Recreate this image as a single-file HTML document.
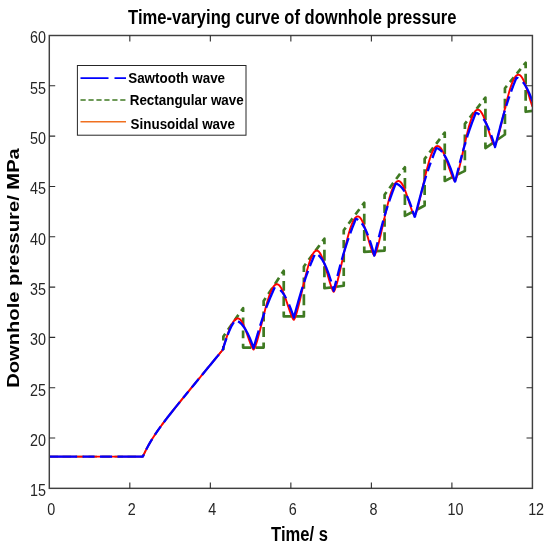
<!DOCTYPE html>
<html><head><meta charset="utf-8"><title>Time-varying curve of downhole pressure</title>
<style>html,body{margin:0;padding:0;background:#fff}svg{display:block}text{font-family:"Liberation Sans",sans-serif}</style></head><body>
<svg width="550" height="551" viewBox="0 0 550 551">
<rect width="550" height="551" fill="#fff"/>
<defs><clipPath id="c"><rect x="49.3" y="35.5" width="483.11999999999995" height="452.83500000000004"/></clipPath></defs>
<g clip-path="url(#c)" fill="none" stroke-linejoin="round">
<path d="M49.5,456.6 L51.51,456.6 L53.52,456.6 L55.54,456.6 L57.55,456.6 L59.56,456.6 L61.58,456.6 L63.59,456.6 L65.6,456.6 L67.61,456.6 L69.62,456.6 L71.64,456.6 L73.65,456.6 L75.66,456.6 L77.68,456.6 L79.69,456.6 L81.7,456.6 L83.71,456.6 L85.72,456.6 L87.74,456.6 L89.75,456.6 L91.76,456.6 L93.78,456.6 L95.79,456.6 L97.8,456.6 L99.81,456.6 L101.83,456.6 L103.84,456.6 L105.85,456.6 L107.86,456.6 L109.88,456.6 L111.89,456.6 L113.9,456.6 L115.91,456.6 L117.93,456.6 L119.94,456.6 L121.95,456.6 L123.96,456.6 L125.98,456.6 L127.99,456.6 L130,456.6 L132.01,456.6 L134.03,456.6 L136.04,456.6 L138.05,456.6 L140.06,456.6 L142.08,456.6 L144.09,453.92 L146.1,449.79 L148.11,445.97 L150.12,442.43 L152.14,439.1 L154.15,435.93 L156.16,432.91 L158.18,430 L160.19,427.19 L162.2,424.44 L164.21,421.76 L166.23,419.12 L168.24,416.52 L170.25,413.95 L172.26,411.41 L174.28,408.88 L176.29,406.38 L178.3,403.89 L180.31,401.4 L182.33,398.93 L184.34,396.46 L186.35,394 L188.36,391.55 L190.38,389.09 L192.39,386.64 L194.4,384.2 L196.41,381.75 L198.43,379.31 L200.44,376.87 L202.45,374.42 L204.46,371.98 L206.48,369.54 L208.49,367.1 L210.5,364.67 L212.51,362.23 L214.53,359.79 L216.54,357.35 L218.55,354.91 L220.56,352.47 L222.57,350.04" stroke="#3f7a22" stroke-width="1.6" stroke-dasharray="8.5 4.5"/>
<path d="M223.38,350.04 L223.38,336.5 L243.1,308.16 L243.1,347.55 L263.63,347.55 L263.63,301.02 L283.75,270.77 L283.75,316.4 L303.88,316.4 L303.88,266.45 L324.41,238.71 L324.41,288.26 L343.73,285.75 L343.73,230.27 L364.25,202.73 L364.25,251.88 L384.58,250.57 L384.58,194.69 L404.91,167.26 L404.91,215.9 L424.63,205.55 L424.63,158.81 L444.75,132.68 L444.75,180.92 L464.88,170.87 L464.88,123.94 L485.41,97.61 L485.41,148.06 L504.93,134.49 L504.93,88.26 L525.66,62.74 L525.66,111.78 L532.5,110.88" stroke="#3f7a22" stroke-width="2.7" stroke-dasharray="4.02 5.5 7.37 4.8 6.71 4.8 6.71 4.8 7.17 5.5 7.63 5.5 7.63 5.5 11.83 4.5 13.02 5.5 10.01 5.5 10.01 5.5 8.66 4.8 7.31 4.8 7.31 4.8 8.51 5.5 9.71 5.5 9.71 5.5 12.67 4.5 13.39 5.5 11.15 5.5 11.15 5.5 8.93 4.8 6.7 4.8 6.7 4.8 8.86 5.5 11.02 5.5 11.02 5.5 13 4.5 11.68 5.5 8.37 5.5 8.37 5.5 8.37 5.5 7.51 4.8 6.65 4.8 6.65 4.8 8.77 5.5 10.88 5.5 10.88 5.5 13.37 4.5 12.17 5.5 8.47 5.5 8.47 5.5 8.47 5.5 7.53 4.8 6.58 4.8 6.58 4.8 8.65 5.5 10.71 5.5 10.71 5.5 14.24 4.5 13.93 5.5 10.08 5.5 10.08 5.5 8.14 4.8 6.19 4.8 6.19 4.8 8.39 5.5 10.58 5.5 10.58 5.5 14.29 4.5 14.07 5.5 10.14 5.5 10.14 5.5 8.24 4.8 6.33 4.8 6.33 4.8 8.82 5.5 11.32 5.5 11.32 5.5 15.3 4.5 14.59 5.5 9.91 5.5 9.91 5.5 8.04 4.8 6.16 4.8 6.16 4.8 8.5 5.5 10.85 5.5 10.85 5.5 17.33 0" stroke-linejoin="round"/>
<path d="M49.5,456.6 L49.9,456.6 L50.3,456.6 L50.71,456.6 L51.11,456.6 L51.51,456.6 L51.91,456.6 L52.32,456.6 L52.72,456.6 L53.12,456.6 L53.52,456.6 L53.93,456.6 L54.33,456.6 L54.73,456.6 L55.13,456.6 L55.54,456.6 L55.94,456.6 L56.34,456.6 L56.74,456.6 L57.15,456.6 L57.55,456.6 L57.95,456.6 L58.36,456.6 L58.76,456.6 L59.16,456.6 L59.56,456.6 L59.97,456.6 L60.37,456.6 L60.77,456.6 L61.17,456.6 L61.58,456.6 L61.98,456.6 L62.38,456.6 L62.78,456.6 L63.19,456.6 L63.59,456.6 L63.99,456.6 L64.39,456.6 L64.8,456.6 L65.2,456.6 L65.6,456.6 L66,456.6 L66.41,456.6 L66.81,456.6 L67.21,456.6 L67.61,456.6 L68.02,456.6 L68.42,456.6 L68.82,456.6 L69.22,456.6 L69.62,456.6 L70.03,456.6 L70.43,456.6 L70.83,456.6 L71.23,456.6 L71.64,456.6 L72.04,456.6 L72.44,456.6 L72.84,456.6 L73.25,456.6 L73.65,456.6 L74.05,456.6 L74.45,456.6 L74.86,456.6 L75.26,456.6 L75.66,456.6 L76.06,456.6 L76.47,456.6 L76.87,456.6 L77.27,456.6 L77.68,456.6 L78.08,456.6 L78.48,456.6 L78.88,456.6 L79.28,456.6 L79.69,456.6 L80.09,456.6 L80.49,456.6 L80.89,456.6 L81.3,456.6 L81.7,456.6 L82.1,456.6 L82.5,456.6 L82.91,456.6 L83.31,456.6 L83.71,456.6 L84.12,456.6 L84.52,456.6 L84.92,456.6 L85.32,456.6 L85.72,456.6 L86.13,456.6 L86.53,456.6 L86.93,456.6 L87.34,456.6 L87.74,456.6 L88.14,456.6 L88.54,456.6 L88.94,456.6 L89.35,456.6 L89.75,456.6 L90.15,456.6 L90.56,456.6 L90.96,456.6 L91.36,456.6 L91.76,456.6 L92.16,456.6 L92.57,456.6 L92.97,456.6 L93.37,456.6 L93.78,456.6 L94.18,456.6 L94.58,456.6 L94.98,456.6 L95.39,456.6 L95.79,456.6 L96.19,456.6 L96.59,456.6 L97,456.6 L97.4,456.6 L97.8,456.6 L98.2,456.6 L98.6,456.6 L99.01,456.6 L99.41,456.6 L99.81,456.6 L100.22,456.6 L100.62,456.6 L101.02,456.6 L101.42,456.6 L101.83,456.6 L102.23,456.6 L102.63,456.6 L103.03,456.6 L103.44,456.6 L103.84,456.6 L104.24,456.6 L104.64,456.6 L105.05,456.6 L105.45,456.6 L105.85,456.6 L106.25,456.6 L106.66,456.6 L107.06,456.6 L107.46,456.6 L107.86,456.6 L108.27,456.6 L108.67,456.6 L109.07,456.6 L109.47,456.6 L109.88,456.6 L110.28,456.6 L110.68,456.6 L111.08,456.6 L111.48,456.6 L111.89,456.6 L112.29,456.6 L112.69,456.6 L113.09,456.6 L113.5,456.6 L113.9,456.6 L114.3,456.6 L114.7,456.6 L115.11,456.6 L115.51,456.6 L115.91,456.6 L116.32,456.6 L116.72,456.6 L117.12,456.6 L117.52,456.6 L117.92,456.6 L118.33,456.6 L118.73,456.6 L119.13,456.6 L119.53,456.6 L119.94,456.6 L120.34,456.6 L120.74,456.6 L121.14,456.6 L121.55,456.6 L121.95,456.6 L122.35,456.6 L122.75,456.6 L123.16,456.6 L123.56,456.6 L123.96,456.6 L124.37,456.6 L124.77,456.6 L125.17,456.6 L125.57,456.6 L125.98,456.6 L126.38,456.6 L126.78,456.6 L127.18,456.6 L127.58,456.6 L127.99,456.6 L128.39,456.6 L128.79,456.6 L129.19,456.6 L129.6,456.6 L130,456.6 L130.4,456.6 L130.81,456.6 L131.21,456.6 L131.61,456.6 L132.01,456.6 L132.42,456.6 L132.82,456.6 L133.22,456.6 L133.62,456.6 L134.03,456.6 L134.43,456.6 L134.83,456.6 L135.23,456.6 L135.63,456.6 L136.04,456.6 L136.44,456.6 L136.84,456.6 L137.25,456.6 L137.65,456.6 L138.05,456.6 L138.45,456.6 L138.86,456.6 L139.26,456.6 L139.66,456.6 L140.06,456.6 L140.47,456.6 L140.87,456.6 L141.27,456.6 L141.67,456.6 L142.08,456.6 L142.48,456.6 L142.88,456.6 L143.28,455.69 L143.69,454.8 L144.09,453.92 L144.49,453.07 L144.89,452.22 L145.3,451.4 L145.7,450.58 L146.1,449.79 L146.5,449 L146.91,448.23 L147.31,447.46 L147.71,446.71 L148.11,445.97 L148.51,445.25 L148.92,444.53 L149.32,443.82 L149.72,443.12 L150.12,442.43 L150.53,441.75 L150.93,441.07 L151.33,440.41 L151.74,439.75 L152.14,439.1 L152.54,438.45 L152.94,437.81 L153.34,437.18 L153.75,436.55 L154.15,435.93 L154.55,435.32 L154.95,434.71 L155.36,434.11 L155.76,433.51 L156.16,432.91 L156.56,432.32 L156.97,431.74 L157.37,431.16 L157.77,430.58 L158.18,430 L158.58,429.43 L158.98,428.87 L159.38,428.3 L159.79,427.74 L160.19,427.19 L160.59,426.63 L160.99,426.08 L161.4,425.53 L161.8,424.98 L162.2,424.44 L162.6,423.9 L163,423.36 L163.41,422.82 L163.81,422.29 L164.21,421.76 L164.62,421.22 L165.02,420.69 L165.42,420.17 L165.82,419.64 L166.22,419.12 L166.63,418.59 L167.03,418.07 L167.43,417.55 L167.83,417.03 L168.24,416.52 L168.64,416 L169.04,415.49 L169.44,414.97 L169.85,414.46 L170.25,413.95 L170.65,413.44 L171.06,412.93 L171.46,412.42 L171.86,411.91 L172.26,411.41 L172.67,410.9 L173.07,410.4 L173.47,409.89 L173.87,409.39 L174.28,408.88 L174.68,408.38 L175.08,407.88 L175.48,407.38 L175.88,406.88 L176.29,406.38 L176.69,405.88 L177.09,405.38 L177.5,404.88 L177.9,404.38 L178.3,403.89 L178.7,403.39 L179.11,402.89 L179.51,402.4 L179.91,401.9 L180.31,401.4 L180.72,400.91 L181.12,400.41 L181.52,399.92 L181.92,399.42 L182.33,398.93 L182.73,398.44 L183.13,397.94 L183.53,397.45 L183.94,396.96 L184.34,396.46 L184.74,395.97 L185.14,395.48 L185.54,394.99 L185.95,394.49 L186.35,394 L186.75,393.51 L187.16,393.02 L187.56,392.53 L187.96,392.04 L188.36,391.55 L188.76,391.06 L189.17,390.56 L189.57,390.07 L189.97,389.58 L190.38,389.09 L190.78,388.6 L191.18,388.11 L191.58,387.62 L191.99,387.13 L192.39,386.64 L192.79,386.15 L193.19,385.66 L193.59,385.18 L194,384.69 L194.4,384.2 L194.8,383.71 L195.21,383.22 L195.61,382.73 L196.01,382.24 L196.41,381.75 L196.81,381.26 L197.22,380.77 L197.62,380.29 L198.02,379.8 L198.43,379.31 L198.83,378.82 L199.23,378.33 L199.63,377.84 L200.03,377.35 L200.44,376.87 L200.84,376.38 L201.24,375.89 L201.65,375.4 L202.05,374.91 L202.45,374.42 L202.85,373.94 L203.26,373.45 L203.66,372.96 L204.06,372.47 L204.46,371.98 L204.87,371.5 L205.27,371.01 L205.67,370.52 L206.07,370.03 L206.47,369.54 L206.88,369.06 L207.28,368.57 L207.68,368.08 L208.09,367.59 L208.49,367.1 L208.89,366.62 L209.29,366.13 L209.69,365.64 L210.1,365.15 L210.5,364.67 L210.9,364.18 L211.31,363.69 L211.71,363.2 L212.11,362.71 L212.51,362.23 L212.92,361.74 L213.32,361.25 L213.72,360.76 L214.12,360.28 L214.52,359.79 L214.93,359.3 L215.33,358.81 L215.73,358.33 L216.13,357.84 L216.54,357.35 L216.94,356.86 L217.34,356.38 L217.74,355.89 L218.15,355.4 L218.55,354.91 L218.95,354.42 L219.35,353.94 L219.76,353.45 L220.16,352.96 L220.56,352.47 L220.97,351.99 L221.37,351.5 L221.77,351.01 L222.17,350.52 L222.57,350.04 L222.98,348.73 L223.38,347.43 L223.78,346.12 L224.19,344.83 L224.59,343.55 L224.99,342.27 L225.39,341.01 L225.79,339.77 L226.2,338.54 L226.6,337.33 L227,336.15 L227.41,334.98 L227.81,333.85 L228.21,332.74 L228.61,331.66 L229.01,330.61 L229.42,329.59 L229.82,328.61 L230.22,327.67 L230.62,326.77 L231.03,325.9 L231.43,325.08 L231.83,324.3 L232.24,323.56 L232.64,322.87 L233.04,322.22 L233.44,321.62 L233.84,321.07 L234.25,320.57 L234.65,320.12 L235.05,319.72 L235.46,319.38 L235.86,319.08 L236.26,318.84 L236.66,318.65 L237.06,318.52 L237.47,318.43 L237.87,318.41 L238.27,318.44 L238.68,318.55 L239.08,318.73 L239.48,318.97 L239.88,319.29 L240.28,319.67 L240.69,320.12 L241.09,320.63 L241.49,321.2 L241.9,321.84 L242.3,322.54 L242.7,323.29 L243.1,324.09 L243.51,324.94 L243.91,325.84 L244.31,326.79 L244.71,327.77 L245.12,328.79 L245.52,329.85 L245.92,330.93 L246.32,332.03 L246.73,333.16 L247.13,334.3 L247.53,335.45 L247.93,336.6 L248.34,337.76 L248.74,338.91 L249.14,340.04 L249.54,341.17 L249.95,342.27 L250.35,343.33 L250.75,344.37 L251.15,345.35 L251.56,346.29 L251.96,347.16 L252.36,347.95 L252.76,348.65 L253.17,349.22 L253.57,349.56 L253.97,349.14 L254.37,348.46 L254.78,347.62 L255.18,346.66 L255.58,345.6 L255.98,344.46 L256.38,343.25 L256.79,341.97 L257.19,340.63 L257.59,339.25 L258,337.82 L258.4,336.35 L258.8,334.85 L259.2,333.31 L259.61,331.76 L260.01,330.18 L260.41,328.58 L260.81,326.97 L261.22,325.35 L261.62,323.72 L262.02,322.1 L262.42,320.47 L262.82,318.84 L263.23,317.22 L263.63,315.62 L264.03,314.02 L264.44,312.45 L264.84,310.89 L265.24,309.35 L265.64,307.84 L266.04,306.35 L266.45,304.9 L266.85,303.48 L267.25,302.09 L267.65,300.74 L268.06,299.43 L268.46,298.17 L268.86,296.94 L269.26,295.77 L269.67,294.64 L270.07,293.56 L270.47,292.53 L270.88,291.56 L271.28,290.64 L271.68,289.78 L272.08,288.97 L272.49,288.23 L272.89,287.55 L273.29,286.92 L273.69,286.37 L274.1,285.87 L274.5,285.44 L274.9,285.07 L275.3,284.77 L275.71,284.54 L276.11,284.37 L276.51,284.27 L276.91,284.24 L277.31,284.27 L277.72,284.38 L278.12,284.55 L278.52,284.79 L278.93,285.1 L279.33,285.48 L279.73,285.92 L280.13,286.43 L280.53,287 L280.94,287.63 L281.34,288.32 L281.74,289.07 L282.14,289.87 L282.55,290.73 L282.95,291.63 L283.35,292.58 L283.75,293.57 L284.16,294.61 L284.56,295.68 L284.96,296.78 L285.37,297.91 L285.77,299.07 L286.17,300.25 L286.57,301.45 L286.98,302.66 L287.38,303.88 L287.78,305.11 L288.18,306.33 L288.59,307.55 L288.99,308.76 L289.39,309.95 L289.79,311.13 L290.2,312.27 L290.6,313.38 L291,314.45 L291.4,315.47 L291.81,316.44 L292.21,317.34 L292.61,318.16 L293.01,318.87 L293.42,319.46 L293.82,319.81 L294.22,319.36 L294.62,318.62 L295.03,317.71 L295.43,316.66 L295.83,315.52 L296.23,314.28 L296.63,312.96 L297.04,311.57 L297.44,310.12 L297.84,308.62 L298.25,307.07 L298.65,305.48 L299.05,303.85 L299.45,302.19 L299.86,300.5 L300.26,298.79 L300.66,297.07 L301.06,295.33 L301.47,293.58 L301.87,291.82 L302.27,290.06 L302.67,288.31 L303.07,286.56 L303.48,284.82 L303.88,283.09 L304.28,281.38 L304.69,279.69 L305.09,278.02 L305.49,276.37 L305.89,274.76 L306.3,273.17 L306.7,271.62 L307.1,270.11 L307.5,268.64 L307.9,267.21 L308.31,265.82 L308.71,264.49 L309.11,263.2 L309.51,261.97 L309.92,260.78 L310.32,259.66 L310.72,258.6 L311.12,257.59 L311.53,256.65 L311.93,255.77 L312.33,254.95 L312.74,254.2 L313.14,253.52 L313.54,252.9 L313.94,252.36 L314.35,251.89 L314.75,251.49 L315.15,251.16 L315.55,250.9 L315.95,250.72 L316.36,250.61 L316.76,250.57 L317.16,250.61 L317.56,250.73 L317.97,250.93 L318.37,251.21 L318.77,251.57 L319.18,252.01 L319.58,252.52 L319.98,253.11 L320.38,253.77 L320.79,254.5 L321.19,255.3 L321.59,256.17 L321.99,257.1 L322.39,258.09 L322.8,259.13 L323.2,260.23 L323.6,261.38 L324,262.58 L324.41,263.82 L324.81,265.1 L325.21,266.41 L325.62,267.75 L326.02,269.12 L326.42,270.51 L326.82,271.91 L327.23,273.32 L327.63,274.74 L328.03,276.16 L328.43,277.57 L328.84,278.97 L329.24,280.35 L329.64,281.71 L330.04,283.04 L330.44,284.32 L330.85,285.56 L331.25,286.75 L331.65,287.87 L332.06,288.91 L332.46,289.85 L332.86,290.68 L333.26,291.36 L333.67,291.78 L334.07,291.32 L334.47,290.56 L334.87,289.64 L335.28,288.58 L335.68,287.42 L336.08,286.16 L336.48,284.82 L336.89,283.41 L337.29,281.94 L337.69,280.41 L338.09,278.84 L338.5,277.21 L338.9,275.55 L339.3,273.86 L339.7,272.13 L340.11,270.38 L340.51,268.61 L340.91,266.82 L341.31,265.02 L341.71,263.21 L342.12,261.4 L342.52,259.58 L342.92,257.77 L343.32,255.95 L343.73,254.15 L344.13,252.36 L344.53,250.59 L344.94,248.83 L345.34,247.09 L345.74,245.38 L346.14,243.69 L346.55,242.03 L346.95,240.41 L347.35,238.82 L347.75,237.26 L348.15,235.75 L348.56,234.28 L348.96,232.86 L349.36,231.48 L349.76,230.15 L350.17,228.87 L350.57,227.65 L350.97,226.48 L351.38,225.36 L351.78,224.31 L352.18,223.31 L352.58,222.38 L352.99,221.51 L353.39,220.71 L353.79,219.97 L354.19,219.3 L354.6,218.7 L355,218.16 L355.4,217.7 L355.8,217.3 L356.2,216.98 L356.61,216.73 L357.01,216.54 L357.41,216.44 L357.81,216.4 L358.22,216.44 L358.62,216.56 L359.02,216.76 L359.43,217.04 L359.83,217.4 L360.23,217.84 L360.63,218.35 L361.04,218.93 L361.44,219.59 L361.84,220.32 L362.24,221.12 L362.64,221.98 L363.05,222.9 L363.45,223.88 L363.85,224.92 L364.25,226.01 L364.66,227.15 L365.06,228.34 L365.46,229.56 L365.87,230.82 L366.27,232.12 L366.67,233.44 L367.07,234.78 L367.48,236.15 L367.88,237.52 L368.28,238.9 L368.68,240.28 L369.09,241.66 L369.49,243.03 L369.89,244.38 L370.29,245.71 L370.69,247.01 L371.1,248.27 L371.5,249.49 L371.9,250.65 L372.31,251.75 L372.71,252.77 L373.11,253.7 L373.51,254.52 L373.92,255.19 L374.32,255.59 L374.72,255.14 L375.12,254.4 L375.52,253.48 L375.93,252.44 L376.33,251.28 L376.73,250.04 L377.14,248.72 L377.54,247.32 L377.94,245.87 L378.34,244.36 L378.75,242.79 L379.15,241.19 L379.55,239.55 L379.95,237.87 L380.36,236.16 L380.76,234.43 L381.16,232.68 L381.56,230.91 L381.96,229.13 L382.37,227.34 L382.77,225.54 L383.17,223.74 L383.58,221.95 L383.98,220.16 L384.38,218.37 L384.78,216.6 L385.19,214.84 L385.59,213.11 L385.99,211.39 L386.39,209.69 L386.8,208.02 L387.2,206.38 L387.6,204.78 L388,203.2 L388.4,201.67 L388.81,200.17 L389.21,198.71 L389.61,197.3 L390.02,195.94 L390.42,194.63 L390.82,193.36 L391.22,192.15 L391.62,190.99 L392.03,189.89 L392.43,188.85 L392.83,187.86 L393.24,186.94 L393.64,186.08 L394.04,185.29 L394.44,184.56 L394.85,183.89 L395.25,183.3 L395.65,182.77 L396.05,182.31 L396.46,181.92 L396.86,181.6 L397.26,181.35 L397.66,181.17 L398.06,181.06 L398.47,181.02 L398.87,181.06 L399.27,181.17 L399.68,181.36 L400.08,181.62 L400.48,181.95 L400.88,182.35 L401.29,182.82 L401.69,183.36 L402.09,183.97 L402.49,184.64 L402.89,185.37 L403.3,186.17 L403.7,187.02 L404.1,187.92 L404.5,188.87 L404.91,189.87 L405.31,190.92 L405.71,192 L406.11,193.12 L406.52,194.28 L406.92,195.46 L407.32,196.66 L407.73,197.88 L408.13,199.11 L408.53,200.36 L408.93,201.6 L409.33,202.85 L409.74,204.08 L410.14,205.31 L410.54,206.51 L410.94,207.69 L411.35,208.84 L411.75,209.94 L412.15,211 L412.56,212 L412.96,212.93 L413.36,213.77 L413.76,214.52 L414.17,215.12 L414.57,215.5 L414.97,215.04 L415.37,214.3 L415.77,213.38 L416.18,212.34 L416.58,211.18 L416.98,209.94 L417.39,208.62 L417.79,207.23 L418.19,205.78 L418.59,204.27 L419,202.71 L419.4,201.12 L419.8,199.48 L420.2,197.82 L420.61,196.13 L421.01,194.41 L421.41,192.68 L421.81,190.94 L422.21,189.18 L422.62,187.42 L423.02,185.66 L423.42,183.9 L423.83,182.14 L424.23,180.4 L424.63,178.66 L425.03,176.95 L425.44,175.25 L425.84,173.57 L426.24,171.93 L426.64,170.31 L427.05,168.72 L427.45,167.16 L427.85,165.65 L428.25,164.17 L428.65,162.74 L429.06,161.35 L429.46,160.01 L429.86,158.72 L430.27,157.48 L430.67,156.29 L431.07,155.17 L431.47,154.1 L431.88,153.09 L432.28,152.14 L432.68,151.26 L433.08,150.44 L433.49,149.69 L433.89,149.01 L434.29,148.39 L434.69,147.85 L435.1,147.37 L435.5,146.97 L435.9,146.64 L436.3,146.38 L436.71,146.2 L437.11,146.09 L437.51,146.05 L437.91,146.08 L438.31,146.18 L438.72,146.34 L439.12,146.57 L439.52,146.86 L439.93,147.21 L440.33,147.63 L440.73,148.1 L441.13,148.64 L441.54,149.23 L441.94,149.88 L442.34,150.58 L442.74,151.33 L443.14,152.13 L443.55,152.98 L443.95,153.88 L444.35,154.81 L444.75,155.79 L445.16,156.8 L445.56,157.84 L445.96,158.91 L446.36,160.01 L446.77,161.13 L447.17,162.27 L447.57,163.42 L447.98,164.58 L448.38,165.75 L448.78,166.93 L449.18,168.1 L449.58,169.26 L449.99,170.42 L450.39,171.55 L450.79,172.67 L451.19,173.76 L451.6,174.82 L452,175.83 L452.4,176.8 L452.81,177.72 L453.21,178.57 L453.61,179.35 L454.01,180.03 L454.42,180.58 L454.82,180.92 L455.22,180.46 L455.62,179.69 L456.02,178.75 L456.43,177.68 L456.83,176.5 L457.23,175.22 L457.64,173.87 L458.04,172.44 L458.44,170.95 L458.84,169.4 L459.25,167.81 L459.65,166.17 L460.05,164.49 L460.45,162.79 L460.86,161.05 L461.26,159.29 L461.66,157.51 L462.06,155.72 L462.46,153.92 L462.87,152.12 L463.27,150.31 L463.67,148.5 L464.08,146.7 L464.48,144.91 L464.88,143.13 L465.28,141.37 L465.69,139.63 L466.09,137.91 L466.49,136.22 L466.89,134.56 L467.3,132.93 L467.7,131.33 L468.1,129.78 L468.5,128.26 L468.9,126.79 L469.31,125.37 L469.71,123.99 L470.11,122.67 L470.52,121.4 L470.92,120.18 L471.32,119.02 L471.72,117.93 L472.12,116.89 L472.53,115.92 L472.93,115.01 L473.33,114.18 L473.74,113.4 L474.14,112.7 L474.54,112.07 L474.94,111.51 L475.35,111.03 L475.75,110.61 L476.15,110.27 L476.55,110.01 L476.96,109.82 L477.36,109.71 L477.76,109.67 L478.16,109.7 L478.56,109.81 L478.97,109.98 L479.37,110.23 L479.77,110.54 L480.18,110.92 L480.58,111.36 L480.98,111.87 L481.38,112.45 L481.79,113.08 L482.19,113.78 L482.59,114.53 L482.99,115.34 L483.39,116.19 L483.8,117.1 L484.2,118.06 L484.6,119.06 L485,120.1 L485.41,121.17 L485.81,122.28 L486.21,123.42 L486.61,124.59 L487.02,125.78 L487.42,126.98 L487.82,128.2 L488.23,129.43 L488.63,130.66 L489.03,131.89 L489.43,133.12 L489.83,134.33 L490.24,135.53 L490.64,136.71 L491.04,137.86 L491.44,138.98 L491.85,140.05 L492.25,141.08 L492.65,142.05 L493.06,142.96 L493.46,143.78 L493.86,144.5 L494.26,145.09 L494.67,145.45 L495.07,145.01 L495.47,144.28 L495.87,143.39 L496.27,142.38 L496.68,141.26 L497.08,140.05 L497.48,138.77 L497.89,137.41 L498.29,136 L498.69,134.53 L499.09,133.02 L499.5,131.46 L499.9,129.87 L500.3,128.25 L500.7,126.59 L501.11,124.92 L501.51,123.22 L501.91,121.51 L502.31,119.79 L502.71,118.06 L503.12,116.33 L503.52,114.59 L503.92,112.86 L504.33,111.13 L504.73,109.42 L505.13,107.71 L505.53,106.03 L505.94,104.36 L506.34,102.71 L506.74,101.09 L507.14,99.49 L507.55,97.92 L507.95,96.39 L508.35,94.89 L508.75,93.43 L509.15,92.01 L509.56,90.64 L509.96,89.3 L510.36,88.02 L510.77,86.78 L511.17,85.6 L511.57,84.46 L511.97,83.39 L512.38,82.36 L512.78,81.4 L513.18,80.5 L513.58,79.66 L513.99,78.88 L514.39,78.16 L514.79,77.51 L515.19,76.92 L515.6,76.4 L516,75.95 L516.4,75.57 L516.8,75.26 L517.21,75.01 L517.61,74.84 L518.01,74.73 L518.41,74.69 L518.82,74.73 L519.22,74.84 L519.62,75.03 L520.02,75.28 L520.43,75.61 L520.83,76.01 L521.23,76.48 L521.63,77.02 L522.04,77.62 L522.44,78.29 L522.84,79.02 L523.24,79.81 L523.64,80.66 L524.05,81.57 L524.45,82.53 L524.85,83.53 L525.25,84.58 L525.66,85.68 L526.06,86.81 L526.46,87.98 L526.87,89.18 L527.27,90.41 L527.67,91.66 L528.07,92.93 L528.48,94.21 L528.88,95.51 L529.28,96.8 L529.68,98.1 L530.09,99.39 L530.49,100.67 L530.89,101.94 L531.29,103.18 L531.69,104.39 L532.1,105.57 L532.5,106.7" stroke="#ff0000" stroke-width="1.9"/>
<path d="M49.5,456.6 L49.9,456.6 L50.3,456.6 L50.71,456.6 L51.11,456.6 L51.51,456.6 L51.91,456.6 L52.32,456.6 L52.72,456.6 L53.12,456.6 L53.52,456.6 L53.93,456.6 L54.33,456.6 L54.73,456.6 L55.13,456.6 L55.54,456.6 L55.94,456.6 L56.34,456.6 L56.74,456.6 L57.15,456.6 L57.55,456.6 L57.95,456.6 L58.36,456.6 L58.76,456.6 L59.16,456.6 L59.56,456.6 L59.97,456.6 L60.37,456.6 L60.77,456.6 L61.17,456.6 L61.58,456.6 L61.98,456.6 L62.38,456.6 L62.78,456.6 L63.19,456.6 L63.59,456.6 L63.99,456.6 L64.39,456.6 L64.8,456.6 L65.2,456.6 L65.6,456.6 L66,456.6 L66.41,456.6 L66.81,456.6 L67.21,456.6 L67.61,456.6 L68.02,456.6 L68.42,456.6 L68.82,456.6 L69.22,456.6 L69.62,456.6 L70.03,456.6 L70.43,456.6 L70.83,456.6 L71.23,456.6 L71.64,456.6 L72.04,456.6 L72.44,456.6 L72.84,456.6 L73.25,456.6 L73.65,456.6 L74.05,456.6 L74.45,456.6 L74.86,456.6 L75.26,456.6 L75.66,456.6 L76.06,456.6 L76.47,456.6 L76.87,456.6 L77.27,456.6 L77.68,456.6 L78.08,456.6 L78.48,456.6 L78.88,456.6 L79.28,456.6 L79.69,456.6 L80.09,456.6 L80.49,456.6 L80.89,456.6 L81.3,456.6 L81.7,456.6 L82.1,456.6 L82.5,456.6 L82.91,456.6 L83.31,456.6 L83.71,456.6 L84.12,456.6 L84.52,456.6 L84.92,456.6 L85.32,456.6 L85.72,456.6 L86.13,456.6 L86.53,456.6 L86.93,456.6 L87.34,456.6 L87.74,456.6 L88.14,456.6 L88.54,456.6 L88.94,456.6 L89.35,456.6 L89.75,456.6 L90.15,456.6 L90.56,456.6 L90.96,456.6 L91.36,456.6 L91.76,456.6 L92.16,456.6 L92.57,456.6 L92.97,456.6 L93.37,456.6 L93.78,456.6 L94.18,456.6 L94.58,456.6 L94.98,456.6 L95.39,456.6 L95.79,456.6 L96.19,456.6 L96.59,456.6 L97,456.6 L97.4,456.6 L97.8,456.6 L98.2,456.6 L98.6,456.6 L99.01,456.6 L99.41,456.6 L99.81,456.6 L100.22,456.6 L100.62,456.6 L101.02,456.6 L101.42,456.6 L101.83,456.6 L102.23,456.6 L102.63,456.6 L103.03,456.6 L103.44,456.6 L103.84,456.6 L104.24,456.6 L104.64,456.6 L105.05,456.6 L105.45,456.6 L105.85,456.6 L106.25,456.6 L106.66,456.6 L107.06,456.6 L107.46,456.6 L107.86,456.6 L108.27,456.6 L108.67,456.6 L109.07,456.6 L109.47,456.6 L109.88,456.6 L110.28,456.6 L110.68,456.6 L111.08,456.6 L111.48,456.6 L111.89,456.6 L112.29,456.6 L112.69,456.6 L113.09,456.6 L113.5,456.6 L113.9,456.6 L114.3,456.6 L114.7,456.6 L115.11,456.6 L115.51,456.6 L115.91,456.6 L116.32,456.6 L116.72,456.6 L117.12,456.6 L117.52,456.6 L117.92,456.6 L118.33,456.6 L118.73,456.6 L119.13,456.6 L119.53,456.6 L119.94,456.6 L120.34,456.6 L120.74,456.6 L121.14,456.6 L121.55,456.6 L121.95,456.6 L122.35,456.6 L122.75,456.6 L123.16,456.6 L123.56,456.6 L123.96,456.6 L124.37,456.6 L124.77,456.6 L125.17,456.6 L125.57,456.6 L125.98,456.6 L126.38,456.6 L126.78,456.6 L127.18,456.6 L127.58,456.6 L127.99,456.6 L128.39,456.6 L128.79,456.6 L129.19,456.6 L129.6,456.6 L130,456.6 L130.4,456.6 L130.81,456.6 L131.21,456.6 L131.61,456.6 L132.01,456.6 L132.42,456.6 L132.82,456.6 L133.22,456.6 L133.62,456.6 L134.03,456.6 L134.43,456.6 L134.83,456.6 L135.23,456.6 L135.63,456.6 L136.04,456.6 L136.44,456.6 L136.84,456.6 L137.25,456.6 L137.65,456.6 L138.05,456.6 L138.45,456.6 L138.86,456.6 L139.26,456.6 L139.66,456.6 L140.06,456.6 L140.47,456.6 L140.87,456.6 L141.27,456.6 L141.67,456.6 L142.08,456.6 L142.48,456.6 L142.88,456.6 L143.28,455.69 L143.69,454.8 L144.09,453.92 L144.49,453.07 L144.89,452.22 L145.3,451.4 L145.7,450.58 L146.1,449.79 L146.5,449 L146.91,448.23 L147.31,447.46 L147.71,446.71 L148.11,445.97 L148.51,445.25 L148.92,444.53 L149.32,443.82 L149.72,443.12 L150.12,442.43 L150.53,441.75 L150.93,441.07 L151.33,440.41 L151.74,439.75 L152.14,439.1 L152.54,438.45 L152.94,437.81 L153.34,437.18 L153.75,436.55 L154.15,435.93 L154.55,435.32 L154.95,434.71 L155.36,434.11 L155.76,433.51 L156.16,432.91 L156.56,432.32 L156.97,431.74 L157.37,431.16 L157.77,430.58 L158.18,430 L158.58,429.43 L158.98,428.87 L159.38,428.3 L159.79,427.74 L160.19,427.19 L160.59,426.63 L160.99,426.08 L161.4,425.53 L161.8,424.98 L162.2,424.44 L162.6,423.9 L163,423.36 L163.41,422.82 L163.81,422.29 L164.21,421.76 L164.62,421.22 L165.02,420.69 L165.42,420.17 L165.82,419.64 L166.22,419.12 L166.63,418.59 L167.03,418.07 L167.43,417.55 L167.83,417.03 L168.24,416.52 L168.64,416 L169.04,415.49 L169.44,414.97 L169.85,414.46 L170.25,413.95 L170.65,413.44 L171.06,412.93 L171.46,412.42 L171.86,411.91 L172.26,411.41 L172.67,410.9 L173.07,410.4 L173.47,409.89 L173.87,409.39 L174.28,408.88 L174.68,408.38 L175.08,407.88 L175.48,407.38 L175.88,406.88 L176.29,406.38 L176.69,405.88 L177.09,405.38 L177.5,404.88 L177.9,404.38 L178.3,403.89 L178.7,403.39 L179.11,402.89 L179.51,402.4 L179.91,401.9 L180.31,401.4 L180.72,400.91 L181.12,400.41 L181.52,399.92 L181.92,399.42 L182.33,398.93 L182.73,398.44 L183.13,397.94 L183.53,397.45 L183.94,396.96 L184.34,396.46 L184.74,395.97 L185.14,395.48 L185.54,394.99 L185.95,394.49 L186.35,394 L186.75,393.51 L187.16,393.02 L187.56,392.53 L187.96,392.04 L188.36,391.55 L188.76,391.06 L189.17,390.56 L189.57,390.07 L189.97,389.58 L190.38,389.09 L190.78,388.6 L191.18,388.11 L191.58,387.62 L191.99,387.13 L192.39,386.64 L192.79,386.15 L193.19,385.66 L193.59,385.18 L194,384.69 L194.4,384.2 L194.8,383.71 L195.21,383.22 L195.61,382.73 L196.01,382.24 L196.41,381.75 L196.81,381.26 L197.22,380.77 L197.62,380.29 L198.02,379.8 L198.43,379.31 L198.83,378.82 L199.23,378.33 L199.63,377.84 L200.03,377.35 L200.44,376.87 L200.84,376.38 L201.24,375.89 L201.65,375.4 L202.05,374.91 L202.45,374.42 L202.85,373.94 L203.26,373.45 L203.66,372.96 L204.06,372.47 L204.46,371.98 L204.87,371.5 L205.27,371.01 L205.67,370.52 L206.07,370.03 L206.47,369.54 L206.88,369.06 L207.28,368.57 L207.68,368.08 L208.09,367.59 L208.49,367.1 L208.89,366.62 L209.29,366.13 L209.69,365.64 L210.1,365.15 L210.5,364.67 L210.9,364.18 L211.31,363.69 L211.71,363.2 L212.11,362.71 L212.51,362.23 L212.92,361.74 L213.32,361.25 L213.72,360.76 L214.12,360.28 L214.52,359.79 L214.93,359.3 L215.33,358.81 L215.73,358.33 L216.13,357.84 L216.54,357.35 L216.94,356.86 L217.34,356.38 L217.74,355.89 L218.15,355.4 L218.55,354.91 L218.95,354.42 L219.35,353.94 L219.76,353.45 L220.16,352.96 L220.56,352.47 L220.97,351.99 L221.37,351.5 L221.77,351.01 L222.17,350.52 L222.57,350.04 L222.98,348.8 L223.38,347.56 L223.78,346.33 L224.19,345.11 L224.59,343.89 L224.99,342.68 L225.39,341.49 L225.79,340.31 L226.2,339.14 L226.6,338 L227,336.87 L227.41,335.77 L227.81,334.69 L228.21,333.64 L228.61,332.61 L229.01,331.61 L229.42,330.64 L229.82,329.7 L230.22,328.8 L230.62,327.93 L231.03,327.1 L231.43,326.3 L231.83,325.54 L232.24,324.82 L232.64,324.14 L233.04,323.49 L233.44,322.89 L233.84,322.33 L234.25,321.82 L234.65,321.34 L235.05,320.91 L235.46,320.52 L235.86,320.58 L236.26,320.67 L236.66,320.78 L237.06,320.91 L237.47,321.08 L237.87,321.26 L238.27,321.47 L238.68,321.71 L239.08,321.97 L239.48,322.26 L239.88,322.57 L240.28,322.91 L240.69,323.27 L241.09,323.66 L241.49,324.07 L241.9,324.5 L242.3,324.97 L242.7,325.45 L243.1,325.96 L243.51,326.5 L243.91,327.06 L244.31,327.65 L244.71,328.26 L245.12,328.9 L245.52,329.56 L245.92,330.25 L246.32,330.96 L246.73,331.7 L247.13,332.46 L247.53,333.25 L247.93,334.06 L248.34,334.9 L248.74,335.76 L249.14,336.64 L249.54,337.56 L249.95,338.49 L250.35,339.46 L250.75,340.44 L251.15,341.46 L251.56,342.49 L251.96,343.56 L252.36,344.64 L252.76,345.76 L253.17,346.89 L253.57,348.06 L253.97,346.65 L254.37,345.25 L254.78,343.85 L255.18,342.45 L255.58,341.05 L255.98,339.66 L256.38,338.28 L256.79,336.9 L257.19,335.52 L257.59,334.16 L258,332.8 L258.4,331.46 L258.8,330.12 L259.2,328.79 L259.61,327.47 L260.01,326.17 L260.41,324.88 L260.81,323.6 L261.22,322.33 L261.62,321.08 L262.02,319.84 L262.42,318.61 L262.82,317.4 L263.23,316.21 L263.63,315.03 L264.03,313.86 L264.44,312.71 L264.84,311.57 L265.24,310.45 L265.64,309.35 L266.04,308.25 L266.45,307.18 L266.85,306.11 L267.25,305.07 L267.65,304.03 L268.06,303.01 L268.46,302 L268.86,301 L269.26,300.01 L269.67,299.04 L270.07,298.08 L270.47,297.12 L270.88,296.18 L271.28,295.24 L271.68,294.31 L272.08,293.39 L272.49,292.47 L272.89,291.56 L273.29,290.65 L273.69,289.75 L274.1,288.85 L274.5,287.95 L274.9,287.05 L275.3,287.12 L275.71,287.21 L276.11,287.32 L276.51,287.46 L276.91,287.63 L277.31,287.82 L277.72,288.04 L278.12,288.28 L278.52,288.55 L278.93,288.84 L279.33,289.16 L279.73,289.51 L280.13,289.88 L280.53,290.27 L280.94,290.69 L281.34,291.14 L281.74,291.61 L282.14,292.11 L282.55,292.63 L282.95,293.18 L283.35,293.75 L283.75,294.35 L284.16,294.98 L284.56,295.63 L284.96,296.3 L285.37,297.01 L285.77,297.73 L286.17,298.48 L286.57,299.26 L286.98,300.06 L287.38,300.89 L287.78,301.75 L288.18,302.62 L288.59,303.53 L288.99,304.46 L289.39,305.41 L289.79,306.4 L290.2,307.4 L290.6,308.43 L291,309.49 L291.4,310.57 L291.81,311.68 L292.21,312.81 L292.61,313.97 L293.01,315.16 L293.42,316.37 L293.82,317.6 L294.22,316.13 L294.62,314.66 L295.03,313.19 L295.43,311.72 L295.83,310.26 L296.23,308.8 L296.63,307.34 L297.04,305.89 L297.44,304.45 L297.84,303.02 L298.25,301.6 L298.65,300.18 L299.05,298.78 L299.45,297.39 L299.86,296.01 L300.26,294.64 L300.66,293.28 L301.06,291.94 L301.47,290.61 L301.87,289.29 L302.27,287.99 L302.67,286.71 L303.07,285.44 L303.48,284.18 L303.88,282.94 L304.28,281.72 L304.69,280.51 L305.09,279.32 L305.49,278.14 L305.89,276.98 L306.3,275.84 L306.7,274.71 L307.1,273.59 L307.5,272.49 L307.9,271.4 L308.31,270.33 L308.71,269.27 L309.11,268.22 L309.51,267.19 L309.92,266.17 L310.32,265.15 L310.72,264.15 L311.12,263.16 L311.53,262.18 L311.93,261.2 L312.33,260.23 L312.74,259.27 L313.14,258.32 L313.54,257.36 L313.94,256.42 L314.35,255.47 L314.75,254.53 L315.15,253.59 L315.55,253.67 L315.95,253.78 L316.36,253.92 L316.76,254.1 L317.16,254.31 L317.56,254.56 L317.97,254.83 L318.37,255.14 L318.77,255.48 L319.18,255.85 L319.58,256.25 L319.98,256.69 L320.38,257.16 L320.79,257.66 L321.19,258.19 L321.59,258.76 L321.99,259.36 L322.39,259.99 L322.8,260.65 L323.2,261.35 L323.6,262.07 L324,262.83 L324.41,263.62 L324.81,264.45 L325.21,265.31 L325.62,266.2 L326.02,267.12 L326.42,268.07 L326.82,269.06 L327.23,270.08 L327.63,271.13 L328.03,272.21 L328.43,273.33 L328.84,274.47 L329.24,275.65 L329.64,276.87 L330.04,278.11 L330.44,279.39 L330.85,280.7 L331.25,282.04 L331.65,283.41 L332.06,284.82 L332.46,286.26 L332.86,287.73 L333.26,289.23 L333.67,290.77 L334.07,289.18 L334.47,287.58 L334.87,285.99 L335.28,284.4 L335.68,282.82 L336.08,281.24 L336.48,279.67 L336.89,278.1 L337.29,276.54 L337.69,274.99 L338.09,273.44 L338.5,271.91 L338.9,270.38 L339.3,268.87 L339.7,267.37 L340.11,265.88 L340.51,264.41 L340.91,262.95 L341.31,261.5 L341.71,260.06 L342.12,258.65 L342.52,257.24 L342.92,255.86 L343.32,254.48 L343.73,253.13 L344.13,251.79 L344.53,250.47 L344.94,249.16 L345.34,247.87 L345.74,246.6 L346.14,245.34 L346.55,244.1 L346.95,242.87 L347.35,241.66 L347.75,240.47 L348.15,239.29 L348.56,238.12 L348.96,236.97 L349.36,235.83 L349.76,234.71 L350.17,233.6 L350.57,232.5 L350.97,231.41 L351.38,230.33 L351.78,229.26 L352.18,228.2 L352.58,227.15 L352.99,226.1 L353.39,225.06 L353.79,224.03 L354.19,223 L354.6,221.97 L355,220.95 L355.4,219.93 L355.8,218.91 L356.2,218.99 L356.61,219.1 L357.01,219.25 L357.41,219.42 L357.81,219.63 L358.22,219.87 L358.62,220.14 L359.02,220.44 L359.43,220.78 L359.83,221.15 L360.23,221.54 L360.63,221.97 L361.04,222.44 L361.44,222.93 L361.84,223.46 L362.24,224.02 L362.64,224.61 L363.05,225.23 L363.45,225.88 L363.85,226.57 L364.25,227.29 L364.66,228.04 L365.06,228.82 L365.46,229.63 L365.87,230.48 L366.27,231.35 L366.67,232.26 L367.07,233.2 L367.48,234.18 L367.88,235.18 L368.28,236.22 L368.68,237.29 L369.09,238.39 L369.49,239.52 L369.89,240.68 L370.29,241.88 L370.69,243.11 L371.1,244.37 L371.5,245.66 L371.9,246.98 L372.31,248.34 L372.71,249.73 L373.11,251.15 L373.51,252.6 L373.92,254.08 L374.32,255.59 L374.72,253.94 L375.12,252.28 L375.52,250.63 L375.93,248.98 L376.33,247.34 L376.73,245.69 L377.14,244.06 L377.54,242.43 L377.94,240.81 L378.34,239.2 L378.75,237.6 L379.15,236.01 L379.55,234.44 L379.95,232.87 L380.36,231.32 L380.76,229.78 L381.16,228.25 L381.56,226.75 L381.96,225.25 L382.37,223.77 L382.77,222.31 L383.17,220.87 L383.58,219.44 L383.98,218.03 L384.38,216.64 L384.78,215.26 L385.19,213.9 L385.59,212.56 L385.99,211.24 L386.39,209.94 L386.8,208.65 L387.2,207.38 L387.6,206.12 L388,204.89 L388.4,203.66 L388.81,202.46 L389.21,201.27 L389.61,200.09 L390.02,198.93 L390.42,197.78 L390.82,196.64 L391.22,195.52 L391.62,194.4 L392.03,193.29 L392.43,192.2 L392.83,191.11 L393.24,190.03 L393.64,188.95 L394.04,187.88 L394.44,186.82 L394.85,185.76 L395.25,184.7 L395.65,183.64 L396.05,183.71 L396.46,183.81 L396.86,183.93 L397.26,184.08 L397.66,184.27 L398.06,184.47 L398.47,184.71 L398.87,184.97 L399.27,185.26 L399.68,185.58 L400.08,185.93 L400.48,186.3 L400.88,186.7 L401.29,187.13 L401.69,187.59 L402.09,188.07 L402.49,188.58 L402.89,189.12 L403.3,189.69 L403.7,190.28 L404.1,190.9 L404.5,191.55 L404.91,192.23 L405.31,192.93 L405.71,193.66 L406.11,194.42 L406.52,195.21 L406.92,196.02 L407.32,196.87 L407.73,197.74 L408.13,198.63 L408.53,199.56 L408.93,200.51 L409.33,201.49 L409.74,202.49 L410.14,203.53 L410.54,204.59 L410.94,205.68 L411.35,206.8 L411.75,207.94 L412.15,209.11 L412.56,210.31 L412.96,211.54 L413.36,212.8 L413.76,214.08 L414.17,215.39 L414.57,216.73 L414.97,216.61 L415.37,215.03 L415.77,213.45 L416.18,211.88 L416.58,210.3 L416.98,208.74 L417.39,207.17 L417.79,205.61 L418.19,204.06 L418.59,202.52 L419,200.99 L419.4,199.46 L419.8,197.95 L420.2,196.45 L420.61,194.96 L421.01,193.48 L421.41,192.02 L421.81,190.57 L422.21,189.13 L422.62,187.71 L423.02,186.3 L423.42,184.91 L423.83,183.54 L424.23,182.18 L424.63,180.84 L425.03,179.51 L425.44,178.2 L425.84,176.91 L426.24,175.64 L426.64,174.38 L427.05,173.13 L427.45,171.91 L427.85,170.7 L428.25,169.51 L428.65,168.33 L429.06,167.16 L429.46,166.01 L429.86,164.88 L430.27,163.76 L430.67,162.65 L431.07,161.55 L431.47,160.47 L431.88,159.4 L432.28,158.33 L432.68,157.28 L433.08,156.23 L433.49,155.19 L433.89,154.16 L434.29,153.14 L434.69,152.11 L435.1,151.1 L435.5,150.08 L435.9,149.07 L436.3,148.06 L436.71,148.13 L437.11,148.24 L437.51,148.37 L437.91,148.53 L438.31,148.72 L438.72,148.94 L439.12,149.18 L439.52,149.46 L439.93,149.77 L440.33,150.1 L440.73,150.47 L441.13,150.86 L441.54,151.28 L441.94,151.73 L442.34,152.21 L442.74,152.72 L443.14,153.26 L443.55,153.83 L443.95,154.43 L444.35,155.05 L444.75,155.71 L445.16,156.39 L445.56,157.1 L445.96,157.85 L446.36,158.62 L446.77,159.42 L447.17,160.25 L447.57,161.1 L447.98,161.99 L448.38,162.91 L448.78,163.85 L449.18,164.83 L449.58,165.83 L449.99,166.87 L450.39,167.93 L450.79,169.02 L451.19,170.14 L451.6,171.29 L452,172.47 L452.4,173.67 L452.81,174.91 L453.21,176.18 L453.61,177.47 L454.01,178.79 L454.42,180.15 L454.82,181.53 L455.22,181.41 L455.62,179.77 L456.02,178.13 L456.43,176.49 L456.83,174.85 L457.23,173.23 L457.64,171.6 L458.04,169.99 L458.44,168.38 L458.84,166.78 L459.25,165.19 L459.65,163.61 L460.05,162.05 L460.45,160.49 L460.86,158.95 L461.26,157.42 L461.66,155.91 L462.06,154.41 L462.46,152.93 L462.87,151.47 L463.27,150.02 L463.67,148.59 L464.08,147.17 L464.48,145.78 L464.88,144.4 L465.28,143.04 L465.69,141.7 L466.09,140.37 L466.49,139.07 L466.89,137.78 L467.3,136.51 L467.7,135.26 L468.1,134.02 L468.5,132.8 L468.9,131.6 L469.31,130.41 L469.71,129.24 L470.11,128.08 L470.52,126.93 L470.92,125.8 L471.32,124.68 L471.72,123.57 L472.12,122.47 L472.53,121.38 L472.93,120.3 L473.33,119.23 L473.74,118.16 L474.14,117.1 L474.54,116.04 L474.94,114.99 L475.35,113.94 L475.75,112.89 L476.15,112.96 L476.55,113.05 L476.96,113.18 L477.36,113.33 L477.76,113.51 L478.16,113.72 L478.56,113.95 L478.97,114.21 L479.37,114.5 L479.77,114.82 L480.18,115.16 L480.58,115.53 L480.98,115.93 L481.38,116.36 L481.79,116.81 L482.19,117.29 L482.59,117.8 L482.99,118.33 L483.39,118.89 L483.8,119.48 L484.2,120.1 L484.6,120.74 L485,121.41 L485.41,122.11 L485.81,122.84 L486.21,123.59 L486.61,124.37 L487.02,125.18 L487.42,126.01 L487.82,126.87 L488.23,127.76 L488.63,128.68 L489.03,129.62 L489.43,130.59 L489.83,131.59 L490.24,132.62 L490.64,133.67 L491.04,134.75 L491.44,135.86 L491.85,136.99 L492.25,138.16 L492.65,139.35 L493.06,140.56 L493.46,141.81 L493.86,143.08 L494.26,144.38 L494.67,145.7 L495.07,147.06 L495.47,145.46 L495.87,143.86 L496.27,142.27 L496.68,140.68 L497.08,139.1 L497.48,137.51 L497.89,135.94 L498.29,134.37 L498.69,132.81 L499.09,131.26 L499.5,129.72 L499.9,128.19 L500.3,126.66 L500.7,125.16 L501.11,123.66 L501.51,122.18 L501.91,120.71 L502.31,119.25 L502.71,117.81 L503.12,116.39 L503.52,114.98 L503.92,113.59 L504.33,112.21 L504.73,110.85 L505.13,109.51 L505.53,108.18 L505.94,106.88 L506.34,105.58 L506.74,104.31 L507.14,103.05 L507.55,101.81 L507.95,100.59 L508.35,99.38 L508.75,98.19 L509.15,97.01 L509.56,95.85 L509.96,94.7 L510.36,93.57 L510.77,92.45 L511.17,91.34 L511.57,90.24 L511.97,89.16 L512.38,88.08 L512.78,87.02 L513.18,85.96 L513.58,84.91 L513.99,83.87 L514.39,82.83 L514.79,81.8 L515.19,80.78 L515.6,79.75 L516,78.73 L516.4,77.71 L516.8,77.78 L517.21,77.87 L517.61,77.99 L518.01,78.14 L518.41,78.32 L518.82,78.52 L519.22,78.75 L519.62,79.01 L520.02,79.29 L520.43,79.61 L520.83,79.95 L521.23,80.31 L521.63,80.7 L522.04,81.12 L522.44,81.57 L522.84,82.04 L523.24,82.55 L523.64,83.07 L524.05,83.63 L524.45,84.21 L524.85,84.82 L525.25,85.46 L525.66,86.12 L526.06,86.81 L526.46,87.53 L526.87,88.28 L527.27,89.05 L527.67,89.85 L528.07,90.67 L528.48,91.53 L528.88,92.41 L529.28,93.31 L529.68,94.25 L530.09,95.21 L530.49,96.2 L530.89,97.22 L531.29,98.26 L531.69,99.33 L532.1,100.43 L532.5,101.55" stroke="#0000ff" stroke-width="2.3" stroke-dasharray="27.6 5.4 12.05 5.4 12.1 5.4 27.85 5.3 12.19 5.3 9.91 5.3 25.72 5.3 8.13 5.3 10.9 5.3 26.45 5.3 13.04 3.5 14.25 5 49.7 5 13.8 5 22.38 6.5 10.08 7 45.93 5 11.88 5 12.22 5 29.65 5 14.81 5 11.75 5 22.82 5 18.18 5 13.42 5.5 29.58 5 17.2 5 10.33 5 30.94 5 12.12 4 48.74 5 8.96 5 17.81 3 43.92 5 8.11 4 9.52 5 30 6 12.95 5 50.22 5 10.01 5 16.95 6 26.81 0"/>
</g>
<g stroke="#404040" stroke-width="1.45" fill="none">
<rect x="49.3" y="35.5" width="483.11999999999995" height="452.84"/>
<path d="M129.82,488.34v-5.9M129.82,35.5v5.9M210.34,488.34v-5.9M210.34,35.5v5.9M290.86,488.34v-5.9M290.86,35.5v5.9M371.38,488.34v-5.9M371.38,35.5v5.9M451.9,488.34v-5.9M451.9,35.5v5.9M49.3,438.02h5.9M532.42,438.02h-5.9M49.3,387.71h5.9M532.42,387.71h-5.9M49.3,337.39h5.9M532.42,337.39h-5.9M49.3,287.08h5.9M532.42,287.08h-5.9M49.3,236.76h5.9M532.42,236.76h-5.9M49.3,186.45h5.9M532.42,186.45h-5.9M49.3,136.13h5.9M532.42,136.13h-5.9M49.3,85.81h5.9M532.42,85.81h-5.9" stroke="#2c2c2c" stroke-width="1.1"/>
</g>
<g font-size="16.5" fill="#262626">
<text transform="translate(51.3,515) scale(0.87,1)" text-anchor="middle">0</text>
<text transform="translate(131.82,515) scale(0.87,1)" text-anchor="middle">2</text>
<text transform="translate(212.34,515) scale(0.87,1)" text-anchor="middle">4</text>
<text transform="translate(292.86,515) scale(0.87,1)" text-anchor="middle">6</text>
<text transform="translate(373.38,515) scale(0.87,1)" text-anchor="middle">8</text>
<text transform="translate(455.6,515) scale(0.87,1)" text-anchor="middle">10</text>
<text transform="translate(536.12,515) scale(0.87,1)" text-anchor="middle">12</text>
<text transform="translate(45.9,496.24) scale(0.87,1)" text-anchor="end">15</text>
<text transform="translate(45.9,445.92) scale(0.87,1)" text-anchor="end">20</text>
<text transform="translate(45.9,395.61) scale(0.87,1)" text-anchor="end">25</text>
<text transform="translate(45.9,345.29) scale(0.87,1)" text-anchor="end">30</text>
<text transform="translate(45.9,294.98) scale(0.87,1)" text-anchor="end">35</text>
<text transform="translate(45.9,244.66) scale(0.87,1)" text-anchor="end">40</text>
<text transform="translate(45.9,194.35) scale(0.87,1)" text-anchor="end">45</text>
<text transform="translate(45.9,144.03) scale(0.87,1)" text-anchor="end">50</text>
<text transform="translate(45.9,93.72) scale(0.87,1)" text-anchor="end">55</text>
<text transform="translate(45.9,43.4) scale(0.87,1)" text-anchor="end">60</text>
</g>
<g font-weight="bold" fill="#000">
<text transform="translate(292.3,24) scale(0.855,1)" text-anchor="middle" font-size="19.4">Time-varying curve of downhole pressure</text>
<text transform="translate(299.5,541) scale(0.846,1)" text-anchor="middle" font-size="19.6">Time/ s</text>
<text transform="translate(19,268) rotate(-90) scale(1.268,1)" text-anchor="middle" font-size="15.9">Downhole pressure/ MPa</text>
</g>
<rect x="77.4" y="65.5" width="168.6" height="69.7" fill="#fff" stroke="#262626" stroke-width="1"/>
<path d="M80.5,78.2H108.5M114.5,78.2H126" stroke="#0000ff" stroke-width="1.7" fill="none"/>
<path d="M80.5,100H126" stroke="#3f7a22" stroke-width="1.6" stroke-dasharray="5.2 2.75" fill="none"/>
<path d="M80.5,121.8H126" stroke="#f07020" stroke-width="1.6" fill="none"/>
<g font-weight="bold" font-size="15" fill="#000">
<text transform="translate(128.2,83.1) scale(0.895,1)">Sawtooth wave</text>
<text transform="translate(129.7,105.1) scale(0.895,1)">Rectangular wave</text>
<text transform="translate(130.6,128.5) scale(0.895,1)">Sinusoidal wave</text>
</g>
</svg></body></html>
